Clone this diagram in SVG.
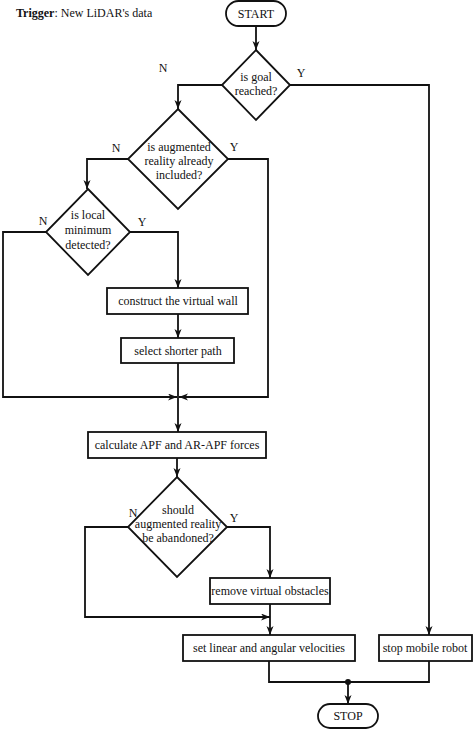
<svg xmlns="http://www.w3.org/2000/svg" width="474" height="730" viewBox="0 0 474 730">
<style>
.s{fill:#fff;stroke:#111;stroke-width:1.8}
.c{fill:none;stroke:#111;stroke-width:1.8}
text{font-family:"Liberation Serif","Times New Roman",serif;font-size:12px;fill:#111}
.m{text-anchor:middle}
</style>
<defs>
<marker id="a" markerUnits="userSpaceOnUse" markerWidth="10" markerHeight="8" refX="9" refY="3.5" orient="auto">
<path d="M0,0 L9,3.5 L0,7 L2.5,3.5 z" fill="#111"/>
</marker>
</defs>
<rect width="474" height="730" fill="#fff"/>
<text x="16" y="17"><tspan font-weight="bold">Trigger</tspan>: New LiDAR's data</text>
<g id="connectors">
<path class="c" d="M256,26 V50" marker-end="url(#a)"/>
<path class="c" d="M222,85 H178 V109" marker-end="url(#a)"/>
<path class="c" d="M290,85 H429 V635" marker-end="url(#a)"/>
<path class="c" d="M128,159 H87 V189" marker-end="url(#a)"/>
<path class="c" d="M228,159 H268 V397 H179" marker-end="url(#a)"/>
<path class="c" d="M46,232 H3 V397 H177" marker-end="url(#a)"/>
<path class="c" d="M130,232 H178 V288" marker-end="url(#a)"/>
<path class="c" d="M178,314 V338" marker-end="url(#a)"/>
<path class="c" d="M178,363 V397"/>
<path class="c" d="M178,397 V432" marker-end="url(#a)"/>
<path class="c" d="M177,458 V477" marker-end="url(#a)"/>
<path class="c" d="M128,527 H85 V617 H270" marker-end="url(#a)"/>
<path class="c" d="M227,527 H270 V578" marker-end="url(#a)"/>
<path class="c" d="M270,604 V635" marker-end="url(#a)"/>
<path class="c" d="M269,661 V682 H429 V661"/>
<circle cx="348" cy="682" r="3" fill="#111"/>
<path class="c" d="M348,682 V704" marker-end="url(#a)"/>
</g>
<text x="163" y="72" class="m">N</text>
<text x="301" y="77" class="m">Y</text>
<text x="116" y="152" class="m">N</text>
<text x="234" y="151" class="m">Y</text>
<text x="43" y="225" class="m">N</text>
<text x="142" y="226" class="m">Y</text>
<text x="133" y="517" class="m">N</text>
<text x="234" y="522" class="m">Y</text>
<g id="start"><rect class="s" x="226" y="1" width="60" height="25" rx="12.5"/><text x="256" y="18" class="m">START</text></g>
<g id="goal"><path class="s" d="M256,50 L290,85 L256,120 L222,85 z"/><text x="256" y="81" class="m">is goal</text><text x="256" y="95" class="m">reached?</text></g>
<g id="arIncluded"><path class="s" d="M178,109 L228,159 L178,209 L128,159 z"/><text x="179" y="151" class="m">is augmented</text><text x="179" y="165" class="m">reality already</text><text x="179" y="179" class="m">included?</text></g>
<g id="localMin"><path class="s" d="M88,189 L130,232 L88,275 L46,232 z"/><text x="88" y="219" class="m">is local</text><text x="88" y="234" class="m">minimum</text><text x="88" y="249" class="m">detected?</text></g>
<g id="wall"><rect class="s" x="107" y="288" width="141" height="26"/><text x="178" y="305" class="m">construct the virtual wall</text></g>
<g id="shorter"><rect class="s" x="121" y="338" width="113" height="25"/><text x="178" y="355" class="m">select shorter path</text></g>
<g id="calc"><rect class="s" x="88" y="432" width="178" height="26"/><text x="177" y="449" class="m">calculate APF and AR-APF forces</text></g>
<g id="abandon"><path class="s" d="M177,477 L227,527 L177,577 L128,527 z"/><text x="178" y="514" class="m">should</text><text x="178" y="528" class="m">augmented reality</text><text x="178" y="542" class="m">be abandoned?</text></g>
<g id="remove"><rect class="s" x="210" y="578" width="120" height="26"/><text x="270" y="595" class="m">remove virtual obstacles</text></g>
<g id="setvel"><rect class="s" x="183" y="635" width="172" height="26"/><text x="269" y="652" class="m">set linear and angular velocities</text></g>
<g id="stoprobot"><rect class="s" x="379" y="635" width="93" height="26"/><text x="425" y="652" class="m">stop mobile robot</text></g>
<g id="stop"><rect class="s" x="318" y="704" width="60" height="24" rx="12"/><text x="348" y="720" class="m">STOP</text></g>
</svg>
